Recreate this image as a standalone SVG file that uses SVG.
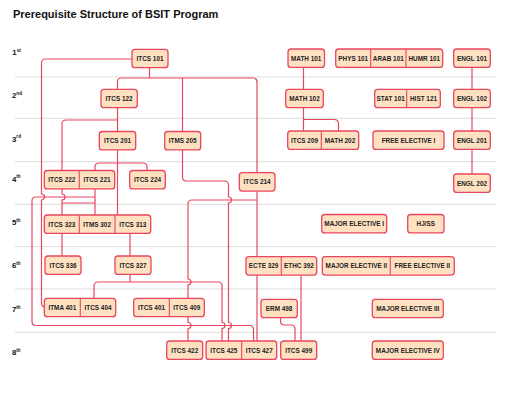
<svg xmlns="http://www.w3.org/2000/svg" width="522" height="413" viewBox="0 0 522 413">
<style>
.n rect{fill:#FFE1C2;stroke:#E8465E;stroke-width:1.3}
.n line{stroke:#E8465E;stroke-width:1.1}
.n text{font-family:"Liberation Sans",Arial,sans-serif;font-weight:bold;font-size:6.4px;fill:#222;text-anchor:middle}
.c path{fill:none;stroke:#E8465E;stroke-width:1.2}
.sep line{stroke:#DCDCDC;stroke-width:1}
.lbl{font-family:"Liberation Sans",Arial,sans-serif;font-weight:bold;font-size:7.8px;fill:#111}
.lbl tspan{font-size:4.6px}
.title{font-family:"Liberation Sans",Arial,sans-serif;font-weight:bold;font-size:11px;fill:#111}
</style>
<rect width="522" height="413" fill="#fff"/>
<text class="title" x="13" y="17.7">Prerequisite Structure of BSIT Program</text>
<g class="sep">
<line x1="15" y1="77" x2="496" y2="77"/>
<line x1="15" y1="118.3" x2="496" y2="118.3"/>
<line x1="15" y1="161.7" x2="496" y2="161.7"/>
<line x1="15" y1="204.3" x2="496" y2="204.3"/>
<line x1="15" y1="246.7" x2="496" y2="246.7"/>
<line x1="15" y1="289" x2="496" y2="289"/>
<line x1="15" y1="332.3" x2="496" y2="332.3"/>
</g>
<g id="row-labels">
<text class="lbl" x="12.3" y="55">1<tspan dy="-3.3">st</tspan></text>
<text class="lbl" x="12" y="98.3">2<tspan dy="-3.3">nd</tspan></text>
<text class="lbl" x="12" y="141.7">3<tspan dy="-3.3">rd</tspan></text>
<text class="lbl" x="12" y="181.7">4<tspan dy="-3.3">th</tspan></text>
<text class="lbl" x="12" y="225">5<tspan dy="-3.3">th</tspan></text>
<text class="lbl" x="12" y="268.3">6<tspan dy="-3.3">th</tspan></text>
<text class="lbl" x="12" y="312">7<tspan dy="-3.3">th</tspan></text>
<text class="lbl" x="12" y="355">8<tspan dy="-3.3">th</tspan></text>
</g>
<g class="c" id="connectors">
<path d="M132,59 H45.5 Q41.5,59 41.5,63 V194 a3,3 0 0 1 0,6 V303 Q41.5,307 45.5,307"/>
<path d="M149.5,67.7 V78"/>
<path d="M117.5,89.3 V82 Q117.5,78 121.5,78 H253 Q257,78 257,82 V172.7"/>
<path d="M182.5,78 V131.7"/>
<path d="M117.5,107.7 V131.7"/>
<path d="M117.5,120 H66 Q62,120 62,124 V170.7"/>
<path d="M117.5,149.3 V215"/>
<path d="M95,170.7 V167 Q95,163 99,163 H143 Q147,163 147,167 V170.7"/>
<path d="M62,188.3 V194 a3,3 0 0 1 0,6 V256"/>
<path d="M95,189 V215"/>
<path d="M95,197 H36 Q32,197 32,201 V321.5 Q32,325.5 36,325.5 H249.5 Q253.5,325.5 253.5,329.5 V341"/>
<path d="M95,203 H62"/>
<path d="M182.5,149.3 V177 Q182.5,181 186.5,181 H224.5 Q228.5,181 228.5,185 V197 a3,3 0 0 1 0,6 V322.5 a3,3 0 0 1 0,6 V341"/>
<path d="M257,191.3 V341"/>
<path d="M257,200 H192 Q188,200 188,204 V279 a3,3 0 0 1 0,6 V298.3"/>
<path d="M188,316.7 V322.5 a3,3 0 0 1 0,6 V341"/>
<path d="M130,232.7 V256"/>
<path d="M130,274 V282"/>
<path d="M94,298.3 V286 Q94,282 98,282 H218 Q222,282 222,286 V322.5 a3,3 0 0 1 0,6 V341"/>
<path d="M301,275 V341"/>
<path d="M280.5,317.7 V321 Q280.5,325 284.5,325 H291 Q295,325 295,329 V341"/>
<path d="M303.5,67.7 V89.3"/>
<path d="M303.5,107.7 V131"/>
<path d="M303.5,119.5 H334 Q338.5,119.5 338.5,124 V131"/>
<path d="M472,67.7 V89.3"/>
<path d="M472,107.7 V131"/>
<path d="M472,149.3 V174"/>
</g>
<g id="nodes">
<g id="itcs101" class="n"><rect x="132" y="49.3" width="36" height="18.4" rx="3"/><text x="150" y="60.8">ITCS 101</text></g>
<g id="math101" class="n"><rect x="288" y="49" width="36.5" height="18.4" rx="3"/><text x="306.2" y="60.5">MATH 101</text></g>
<g id="grp-phys-arab-humr" class="n"><rect x="335.7" y="49" width="107" height="18.4" rx="3"/><line x1="370.7" y1="49" x2="370.7" y2="67.4"/><line x1="406" y1="49" x2="406" y2="67.4"/>
<g id="phys101"><text x="353.2" y="60.5">PHYS 101</text></g><g id="arab101"><text x="388.3" y="60.5">ARAB 101</text></g><g id="humr101"><text x="424.3" y="60.5">HUMR 101</text></g></g>
<g id="engl101" class="n"><rect x="453.7" y="49" width="36.6" height="18.4" rx="3"/><text x="472" y="60.5">ENGL 101</text></g>

<g id="itcs122" class="n"><rect x="101" y="89.3" width="36.3" height="18.4" rx="3"/><text x="119.1" y="100.8">ITCS 122</text></g>
<g id="math102" class="n"><rect x="285.7" y="89.3" width="37.6" height="18.4" rx="3"/><text x="304.5" y="100.8">MATH 102</text></g>
<g id="grp-stat-hist" class="n"><rect x="374.7" y="89.3" width="65.6" height="18.4" rx="3"/><line x1="406.7" y1="89.3" x2="406.7" y2="107.7"/>
<g id="stat101"><text x="390.7" y="100.8">STAT 101</text></g><g id="hist121"><text x="423.5" y="100.8">HIST 121</text></g></g>
<g id="engl102" class="n"><rect x="453.7" y="89.3" width="36.6" height="18.4" rx="3"/><text x="472" y="100.8">ENGL 102</text></g>

<g id="itcs201" class="n"><rect x="99.3" y="131.5" width="36.4" height="18.4" rx="3"/><text x="117.5" y="143">ITCS 201</text></g>
<g id="itms205" class="n"><rect x="164.7" y="131.5" width="36" height="18.4" rx="3"/><text x="182.7" y="143">ITMS 205</text></g>
<g id="grp-itcs209-math202" class="n"><rect x="287.7" y="131" width="71" height="18.4" rx="3"/><line x1="321.3" y1="131" x2="321.3" y2="149.4"/>
<g id="itcs209"><text x="304.5" y="142.5">ITCS 209</text></g><g id="math202"><text x="340" y="142.5">MATH 202</text></g></g>
<g id="free1" class="n"><rect x="373" y="131" width="71" height="18.4" rx="3"/><text x="408.5" y="142.5">FREE ELECTIVE I</text></g>
<g id="engl201" class="n"><rect x="453.7" y="131" width="36.6" height="18.4" rx="3"/><text x="472" y="142.5">ENGL 201</text></g>

<g id="grp-itcs222-221" class="n"><rect x="44.3" y="170.5" width="70.4" height="18.4" rx="3"/><line x1="79.3" y1="170.5" x2="79.3" y2="188.9"/>
<g id="itcs222"><text x="61.8" y="182">ITCS 222</text></g><g id="itcs221"><text x="97" y="182">ITCS 221</text></g></g>
<g id="itcs224" class="n"><rect x="129.7" y="170.5" width="35.6" height="18.4" rx="3"/><text x="147.5" y="182">ITCS 224</text></g>
<g id="itcs214" class="n"><rect x="239.3" y="172.7" width="35.7" height="18.4" rx="3"/><text x="257.1" y="184.2">ITCS 214</text></g>
<g id="engl202" class="n"><rect x="453.7" y="174" width="36.6" height="18.4" rx="3"/><text x="472" y="185.5">ENGL 202</text></g>

<g id="grp-itcs323-itms302-itcs313" class="n"><rect x="44.3" y="215" width="106.4" height="18.4" rx="3"/><line x1="79.3" y1="215" x2="79.3" y2="233.4"/><line x1="115" y1="215" x2="115" y2="233.4"/>
<g id="itcs323"><text x="61.8" y="226.5">ITCS 323</text></g><g id="itms302"><text x="97.1" y="226.5">ITMS 302</text></g><g id="itcs313"><text x="132.8" y="226.5">ITCS 313</text></g></g>
<g id="major1" class="n"><rect x="321.7" y="214.5" width="65" height="18.4" rx="3"/><text x="354.2" y="226">MAJOR ELECTIVE I</text></g>
<g id="hjss" class="n"><rect x="407.7" y="214.5" width="36.3" height="18.4" rx="3"/><text x="425.8" y="226">HJ/SS</text></g>

<g id="itcs336" class="n"><rect x="45" y="256" width="36" height="18.4" rx="3"/><text x="63" y="267.5">ITCS 336</text></g>
<g id="itcs327" class="n"><rect x="115" y="256" width="36" height="18.4" rx="3"/><text x="133" y="267.5">ITCS 327</text></g>
<g id="grp-ecte329-ethc392" class="n"><rect x="246" y="256.7" width="70.7" height="18.4" rx="3"/><line x1="281.3" y1="256.7" x2="281.3" y2="275.1"/>
<g id="ecte329"><text x="263.6" y="268.2">ECTE 329</text></g><g id="ethc392"><text x="299" y="268.2">ETHC 392</text></g></g>
<g id="grp-major2-free2" class="n"><rect x="322.3" y="256.7" width="132" height="18.4" rx="3"/><line x1="390.3" y1="256.7" x2="390.3" y2="275.1"/>
<g id="major2"><text x="356.3" y="268.2">MAJOR ELECTIVE II</text></g><g id="free2"><text x="422.3" y="268.2">FREE ELECTIVE II</text></g></g>

<g id="grp-itma401-itcs404" class="n"><rect x="44.3" y="298.3" width="71.4" height="18.4" rx="3"/><line x1="80.3" y1="298.3" x2="80.3" y2="316.7"/>
<g id="itma401"><text x="62.3" y="309.8">ITMA 401</text></g><g id="itcs404"><text x="98" y="309.8">ITCS 404</text></g></g>
<g id="grp-itcs401-itcs409" class="n"><rect x="133.7" y="298.3" width="70.6" height="18.4" rx="3"/><line x1="169.3" y1="298.3" x2="169.3" y2="316.7"/>
<g id="itcs401"><text x="151.5" y="309.8">ITCS 401</text></g><g id="itcs409"><text x="186.8" y="309.8">ITCS 409</text></g></g>
<g id="erm498" class="n"><rect x="261" y="299.3" width="36.3" height="18.4" rx="3"/><text x="279.1" y="310.8">ERM 498</text></g>
<g id="major3" class="n"><rect x="372.3" y="299.3" width="71" height="18.4" rx="3"/><text x="407.8" y="310.8">MAJOR ELECTIVE III</text></g>

<g id="itcs422" class="n"><rect x="166.7" y="341" width="36" height="18.4" rx="3"/><text x="184.7" y="352.5">ITCS 422</text></g>
<g id="grp-itcs425-itcs427" class="n"><rect x="206" y="341" width="70.7" height="18.4" rx="3"/><line x1="241.7" y1="341" x2="241.7" y2="359.4"/>
<g id="itcs425"><text x="223.8" y="352.5">ITCS 425</text></g><g id="itcs427"><text x="259.2" y="352.5">ITCS 427</text></g></g>
<g id="itcs499" class="n"><rect x="280.7" y="341" width="36" height="18.4" rx="3"/><text x="298.7" y="352.5">ITCS 499</text></g>
<g id="major4" class="n"><rect x="372.3" y="341" width="71" height="18.4" rx="3"/><text x="407.8" y="352.5">MAJOR ELECTIVE IV</text></g>
</g>
</svg>
